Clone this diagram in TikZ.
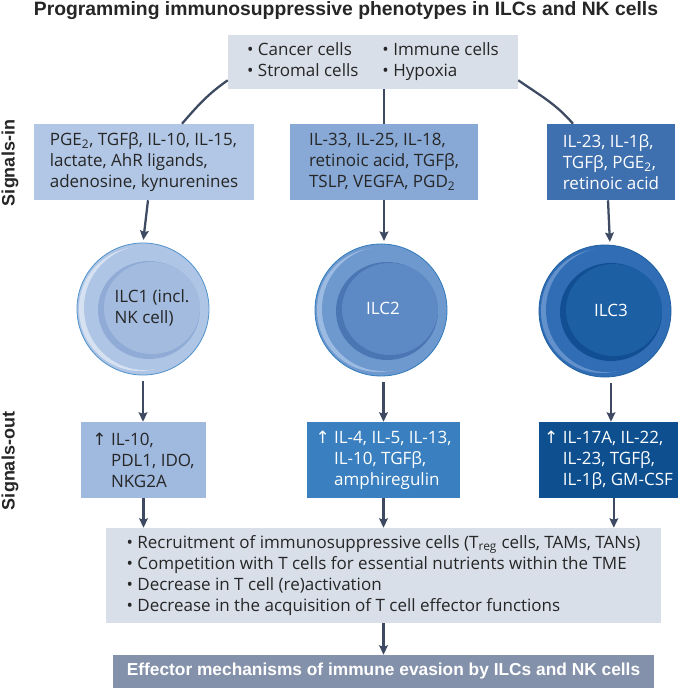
\documentclass[tikz,border=0pt]{standalone}
\usepackage{fontspec}
\setmainfont{Open Sans}
\newfontfamily\headfont{Liberation Sans}
\newfontfamily\arrowfont{DejaVu Sans}
\usetikzlibrary{arrows.meta}

% Farben
\definecolor{inkcol}{HTML}{262626}
\definecolor{arrowcol}{HTML}{3D4A62}
\definecolor{greybox}{HTML}{D8DFE9}
\definecolor{evasioncol}{HTML}{8491AA}
\definecolor{inA}{HTML}{B2C7E5}
\definecolor{inB}{HTML}{88A9D6}
\definecolor{inC}{HTML}{3E6FAE}
\definecolor{outA}{HTML}{9FB9DF}
\definecolor{outB}{HTML}{3A80C0}
\definecolor{outC}{HTML}{0D4F8F}
% Zellen: Koerper, heller Rand, Kernschatten, Kern, Kontur
\definecolor{cellbody1}{HTML}{AFC5E5}
\definecolor{celllight1}{HTML}{D6E2F2}
\definecolor{cellshade1}{HTML}{8FABD6}
\definecolor{cellnuc1}{HTML}{A2BBDF}
\definecolor{cellrim1}{HTML}{4F91CC}
\definecolor{cellbody2}{HTML}{6E99CF}
\definecolor{celllight2}{HTML}{9CBBE3}
\definecolor{cellshade2}{HTML}{4A77B4}
\definecolor{cellnuc2}{HTML}{5D8AC5}
\definecolor{cellrim2}{HTML}{2E7ABB}
\definecolor{cellbody3}{HTML}{316DB4}
\definecolor{celllight3}{HTML}{6391CC}
\definecolor{cellshade3}{HTML}{114F92}
\definecolor{cellnuc3}{HTML}{1C5FA3}
\definecolor{cellrim3}{HTML}{1F60A2}

\newcommand{\bodysize}{\fontsize{12.75}{15.75}\selectfont}
\newcommand{\upmark}{{\arrowfont ↑}\ }
\newcommand{\upgap}{\hphantom{\upmark}}

\tikzset{
  sigbox/.style={inner sep=0pt, align=left, minimum height=57pt, font=\bodysize, text=inkcol},
  greybox/.style={fill=greybox, inner sep=0pt, align=left, font=\bodysize, text=inkcol},
  sidelabel/.style={rotate=90, text=inkcol, font=\headfont\bfseries\fontsize{13.5}{16}\selectfont},
  cellrim/.style={circle, minimum size=99pt, inner sep=0pt, line width=0.6pt},
  link/.style={draw=arrowcol, line width=1.7pt},
  flow/.style={link, -{Stealth[length=7pt, width=6.5pt, inset=1pt]}},
}

\begin{document}
\begin{tikzpicture}[x=0.75pt, y=-0.75pt]
    % 1. Rahmen und Titel
    \useasboundingbox (0,0) rectangle (685,689);
    \fill[white] (0,0) rectangle (685,689);
    \node[text=inkcol, font=\headfont\bfseries\fontsize{14.5}{17}\selectfont] (title) at (346,11)
        {Programming immunosuppressive phenotypes in ILCs and NK cells};

    % 2. Quelle oben
    \node[greybox, minimum width=217.5pt, minimum height=40.5pt] (src) at (373,62)
        {\begin{tabular}{@{}l@{\hspace{18pt}}l@{}}
         • Cancer cells & • Immune cells\\
         • Stromal cells & • Hypoxia
         \end{tabular}};

    % 3. Signals-in
    \node[sidelabel] (sigin) at (10,163) {Signals-in};
    \node[sigbox, fill=inA, minimum width=165pt] (in1) at (144,162)
        {PGE\textsubscript{2}, TGFβ, IL-10, IL-15,\\lactate, AhR ligands,\\adenosine, kynurenines};
    \node[sigbox, fill=inB, minimum width=141pt] (in2) at (384,162)
        {IL-33, IL-25, IL-18,\\retinoic acid, TGFβ,\\TSLP, VEGFA, PGD\textsubscript{2}};
    \node[sigbox, fill=inC, minimum width=96pt, text=white] (in3) at (611,162)
        {IL-23, IL-1β,\\TGFβ, PGE\textsubscript{2},\\retinoic acid};

    % 4. Zellen
    \foreach \ci/\cx/\cy in {1/143/309, 2/381/310, 3/605/311} {
        \fill[cellbody\ci] (\cx,\cy) circle[x radius=66, y radius=66];
        \fill[celllight\ci] (\cx-3,\cy) circle[x radius=61, y radius=62];
        \fill[cellbody\ci] (\cx+2,\cy-1) circle[x radius=61, y radius=62];
        \fill[cellshade\ci] (\cx+6,\cy+1) circle[x radius=51, y radius=49];
        \fill[cellnuc\ci] (\cx+9,\cy-1) circle[x radius=48, y radius=46];
        \node[cellrim, draw=cellrim\ci] (ilc\ci) at (\cx,\cy) {};
    }
    \node[align=left, text=inkcol, font=\bodysize] (lab1) at (152,308) {ILC1 (incl.\\NK cell)};
    \node[text=white, font=\bodysize] (lab2) at (383,308) {ILC2};
    \node[text=white, font=\bodysize] (lab3) at (611,310) {ILC3};

    % 5. Signals-out
    \node[sidelabel] (sigout) at (10,461) {Signals-out};
    \node[sigbox, fill=outA, minimum width=93.75pt] (out1) at (143.5,460)
        {\upmark IL-10,\\\upgap PDL1, IDO,\\\upgap NKG2A};
    \node[sigbox, fill=outB, minimum width=114.75pt, text=white] (out2) at (383.5,460)
        {\upmark IL-4, IL-5, IL-13,\\\upgap IL-10, TGFβ,\\\upgap amphiregulin};
    \node[sigbox, fill=outC, minimum width=104.25pt, text=white] (out3) at (608.5,460)
        {\upmark IL-17A, IL-22,\\\upgap IL-23, TGFβ,\\\upgap IL-1β, GM-CSF};

    % 6. Effekte unten
    \node[greybox, minimum width=416.25pt, minimum height=71.25pt] (effects) at (383.5,575.5)
        {• Recruitment of immunosuppressive cells (T\textsubscript{reg} cells, TAMs, TANs)\\
         • Competition with T cells for essential nutrients within the TME\\
         • Decrease in T cell (re)activation\\
         • Decrease in the acquisition of T cell effector functions};
    \node[fill=evasioncol, text=white, minimum width=405.75pt, minimum height=24.75pt, inner sep=0pt,
          font=\headfont\bfseries\fontsize{13}{15}\selectfont] (evasion) at (383.5,671.5)
        {Effector mechanisms of immune evasion by ILCs and NK cells};

    % 7. Verbindungen
    \draw[link] (src.south -| in2.north) -- (in2.north);
    \draw[link] ([yshift=6.75pt]src.south west) to[out=215, in=49] ([xshift=28.5pt]in1.north);
    \draw[link] ([yshift=6.75pt]src.south east) to[out=-35, in=131] ([xshift=-28.5pt]in3.north);

    \draw[flow, shorten >=2pt] ([xshift=3pt]in1.south) -- (ilc1.north);
    \draw[flow, shorten >=2pt] (in2.south) -- (in2.south |- ilc2.north);
    \draw[flow, shorten >=2pt] ([xshift=-2.25pt]in3.south) -- ([xshift=3.75pt]ilc3.north);

    \draw[flow, shorten <=4.5pt] (ilc1.south) -- (ilc1.south |- out1.north);
    \draw[flow, shorten <=4.5pt] (out2.north |- ilc2.south) -- (out2.north);
    \draw[flow, shorten <=4.5pt] ([xshift=4.5pt]ilc3.south) -- ([xshift=4.5pt]ilc3.south |- out3.north);

    \draw[flow] (out1.south) -- (out1.south |- effects.north);
    \draw[flow] (out2.south) -- (out2.south |- effects.north);
    \draw[flow] ([xshift=4pt]out3.south) -- ([xshift=4pt]out3.south |- effects.north);
    \draw[flow] (effects.south) -- (evasion.north);
\end{tikzpicture}
\end{document}
